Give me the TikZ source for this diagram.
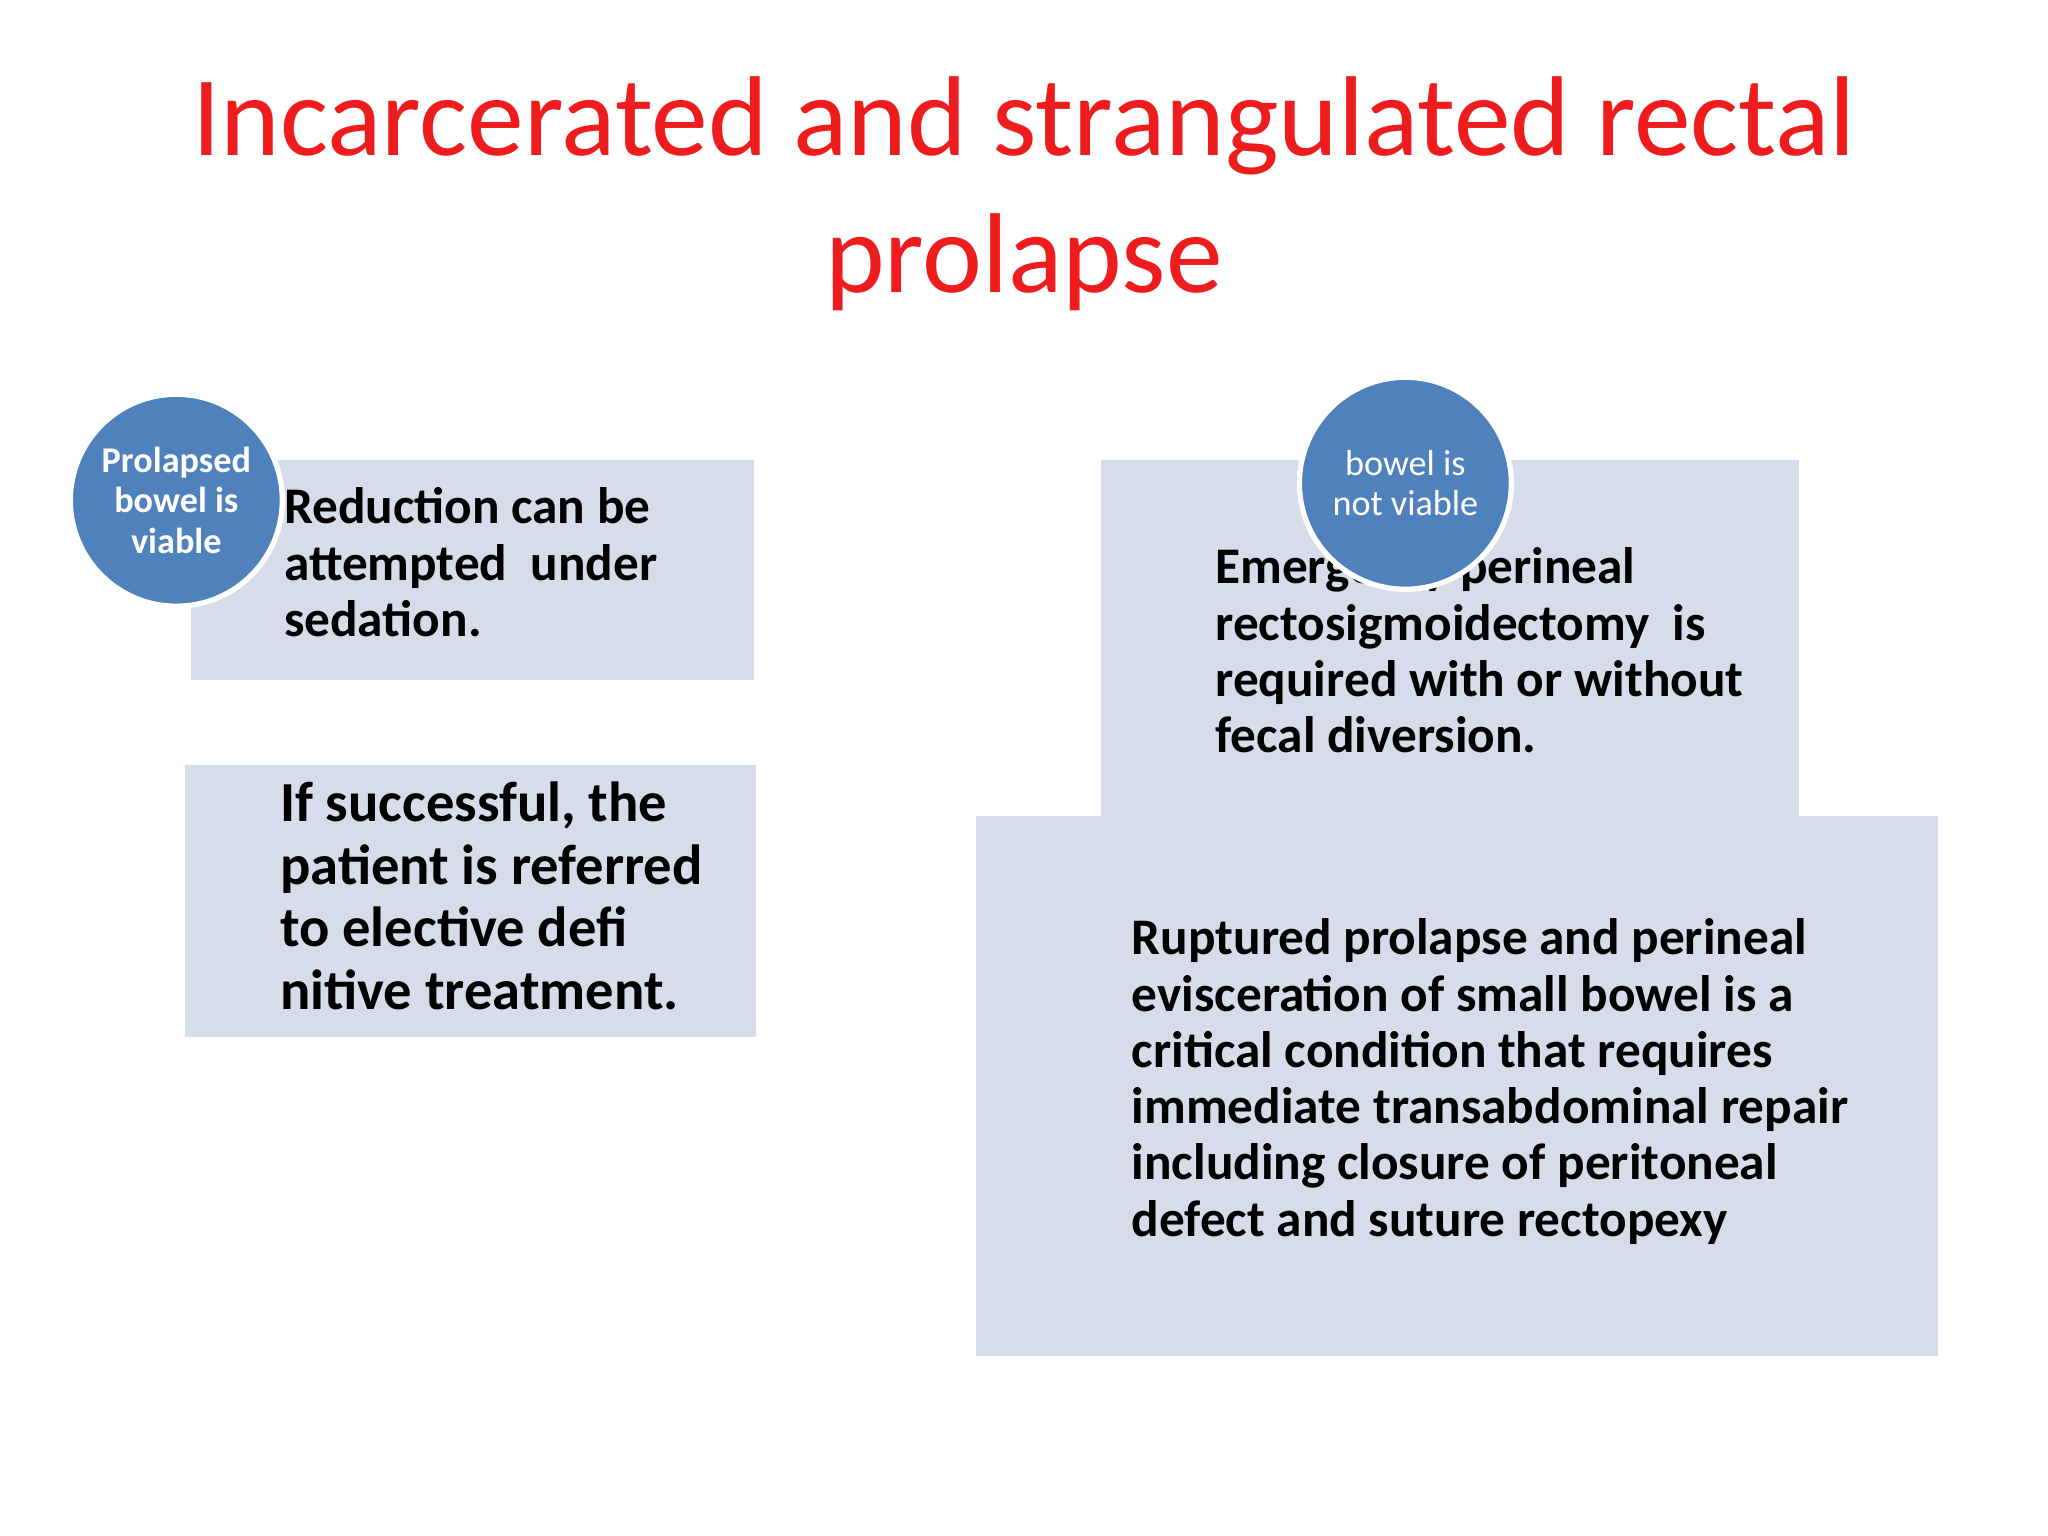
\documentclass[tikz,border=0pt]{standalone}
\usepackage{fontspec}
\setmainfont{Carlito}
\begin{document}
\begin{tikzpicture}[x=0.013061cm,y=-0.013061cm,
  box/.style={fill=boxc,draw=none},
  circ/.style={circle,fill=circc,draw=white,line width=1.5pt,text=white,align=center,inner sep=0pt,minimum size=2.12cm},
  txt/.style={anchor=north west,inner sep=0pt,align=left,font=\bfseries\fontsize{14.6}{16}\selectfont}]
\definecolor{boxc}{HTML}{D6DCE9}
\definecolor{circc}{HTML}{4F81BD}
\definecolor{titc}{HTML}{EE1C1C}
\useasboundingbox (0,0) rectangle (1568,1176);
\fill[white] (0,0) rectangle (1568,1176);
\node[text=titc,align=center,font=\fontsize{32.3}{39}\selectfont] (title) at (784,148) {Incarcerated and strangulated rectal\\prolapse};
\fill[box] (146,352) rectangle (577,521);
\node[txt] (t1) at (217,373) {Reduction can be\\attempted~ under\\sedation.};
\node[circ,font=\bfseries\fontsize{10.3}{11.5}\selectfont] (c1) at (135,383) {Prolapsed\\bowel is\\viable};
\fill[box] (142,586) rectangle (579,794);
\node[txt,font=\bfseries\fontsize{16.1}{17.8}\selectfont] (t2) at (214,598) {If successful, the\\patient is referred\\to elective defi\\nitive treatment.};
\fill[box] (843,352) rectangle (1377,640);
\node[txt] (t3) at (930,419) {Emergency perineal\\rectosigmoidectomy~ is\\required with or without\\fecal diversion.};
\node[circ,font=\fontsize{10.3}{11.5}\selectfont] (c2) at (1076,370) {bowel is\\not viable};
\fill[box] (747,625) rectangle (1484,1038);
\node[txt] (t4) at (866,703) {Ruptured prolapse and perineal\\evisceration of small bowel is a\\critical condition that requires\\immediate transabdominal repair\\including closure of peritoneal\\defect and suture rectopexy};
\end{tikzpicture}
\end{document}
